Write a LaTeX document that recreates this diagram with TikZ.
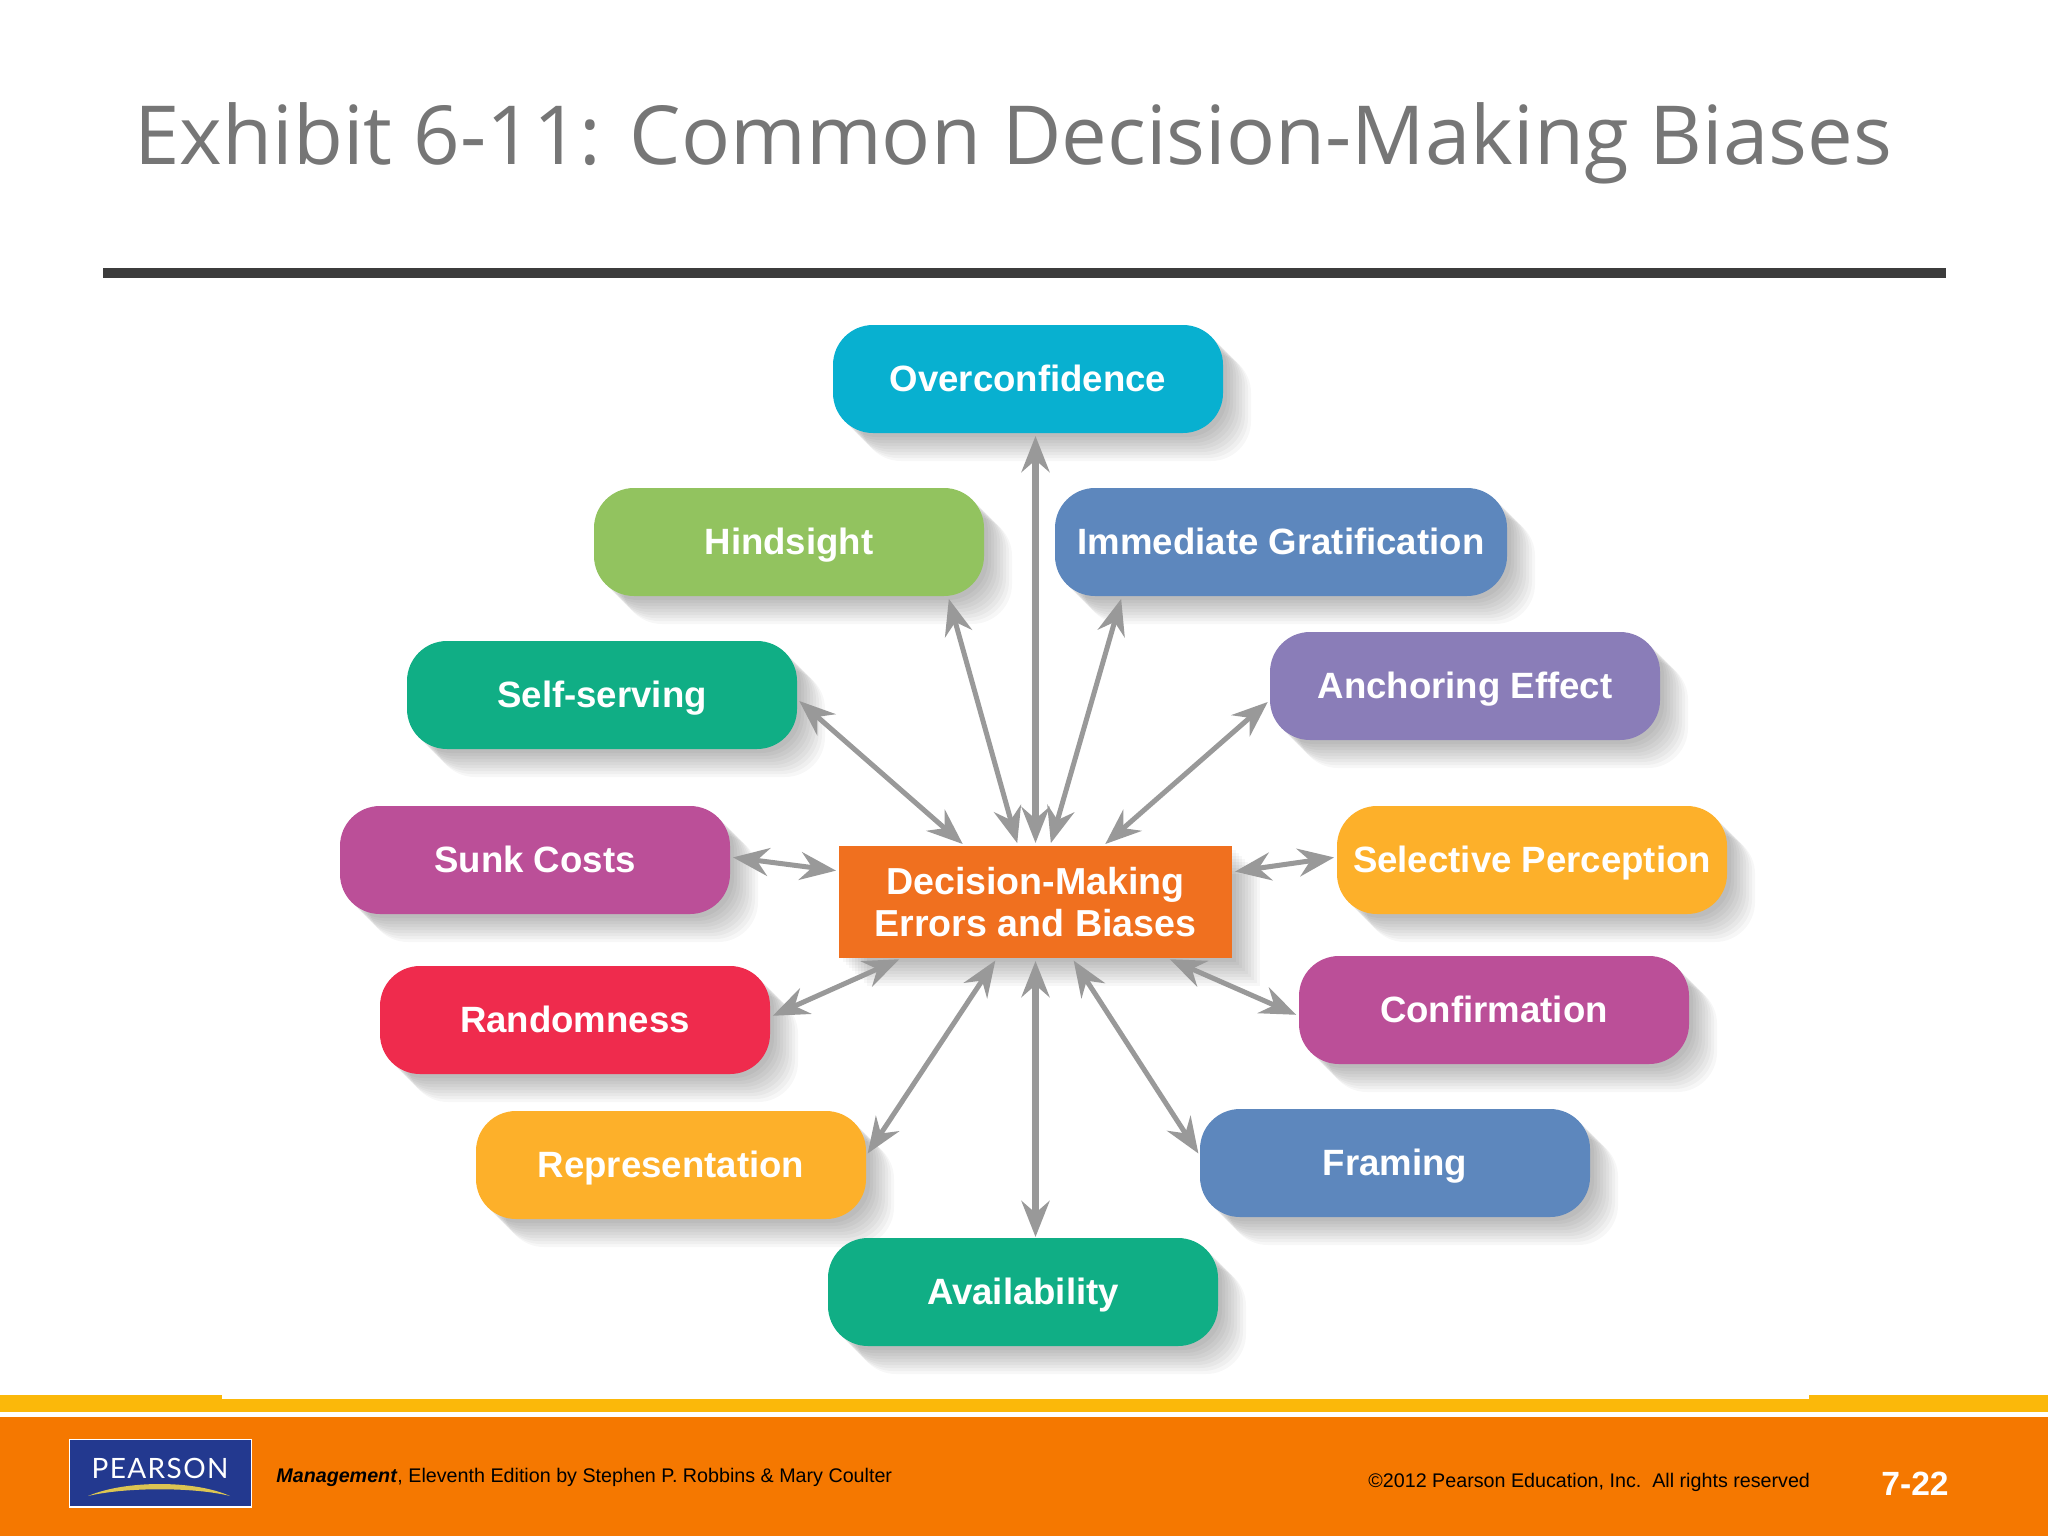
\documentclass[tikz,border=0pt]{standalone}
\usepackage{fontspec}
\setmainfont{Liberation Sans}
\newfontfamily\titlefont{Open Sans}
\newfontfamily\logofont[LetterSpace=5]{Lato}
\usetikzlibrary{arrows.meta,shadows}
\definecolor{footorange}{HTML}{F57800}
\definecolor{footgold}{HTML}{FBB80A}
\definecolor{swooshgold}{HTML}{DCC552}
\definecolor{rulegray}{HTML}{3C3C3C}
\definecolor{titlegray}{HTML}{767676}
\definecolor{arrowgray}{HTML}{999999}
\definecolor{logoblue}{HTML}{23398F}
\definecolor{cyanbias}{HTML}{08B0D0}
\definecolor{greenbias}{HTML}{92C35F}
\definecolor{bluebias}{HTML}{5D87BD}
\definecolor{tealbias}{HTML}{10AE85}
\definecolor{purplebias}{HTML}{8A7DB8}
\definecolor{magentabias}{HTML}{BB4F98}
\definecolor{amberbias}{HTML}{FDB02A}
\definecolor{redbias}{HTML}{EF2B4D}
\definecolor{centerbox}{HTML}{F0701F}
\tikzset{
	shadowlayer/.style={drop shadow={shadow xshift=#1,shadow yshift=-#1,opacity=0.03,fill=black}},
	softshadow/.style={shadowlayer/.list={14pt,12.5pt,11pt,9.5pt,8pt,6.5pt,5pt,3.5pt,2pt}},
	bias/.style={softshadow,fill=#1,rounded corners=20pt,minimum width=195pt,minimum height=54pt,inner sep=0pt,outer sep=0pt,text=white,text height=12pt,text depth=0pt,font=\fontsize{18.3}{22}\selectfont\bfseries},
	link/.style={draw=arrowgray,line width=2.5pt,{Stealth[length=18pt,width=14pt,inset=6pt]}-{Stealth[length=18pt,width=14pt,inset=6pt]},shorten <=1.5pt,shorten >=1.5pt},
	footnote/.style={inner sep=0pt,anchor=base west,font=\fontsize{9.85}{12}\selectfont}
}
\begin{document}
\begin{tikzpicture}[x=0.5pt,y=-0.5pt]
	\useasboundingbox (0,0) rectangle (2048,1536);
	\fill[white] (0,0) rectangle (2048,1536);

	\node[inner sep=0pt,anchor=base west,text=titlegray,font=\titlefont\fontsize{40.75}{48}\selectfont] (title) at (134,164) {Exhibit 6-11: Common Decision-Making Biases};
	\fill[rulegray] (103,268) rectangle (1946,278);

	\node[bias=cyanbias] (over) at (1028,379) {Overconfidence};
	\node[bias=greenbias] (hind) at (789,542) {Hindsight};
	\node[bias=bluebias,minimum width=226pt] (imm) at (1281,542) {Immediate Gratification};
	\node[bias=tealbias] (self) at (602,695) {Self-serving};
	\node[bias=purplebias] (anch) at (1465,686) {Anchoring Effect};
	\node[bias=magentabias] (sunk) at (535,860) {Sunk Costs};
	\node[bias=amberbias] (sel) at (1532,860) {Selective Perception};
	\node[bias=redbias] (rand) at (575,1020) {Randomness};
	\node[bias=magentabias] (conf) at (1494,1010) {Confirmation};
	\node[bias=amberbias] (repr) at (671,1165) {Representation};
	\node[bias=bluebias] (fram) at (1395,1163) {Framing};
	\node[bias=tealbias] (avail) at (1023,1292) {Availability};
	\node[softshadow,fill=centerbox,minimum width=196.5pt,minimum height=56pt,inner sep=0pt,outer sep=0pt,text=white,align=center,font=\fontsize{18.8}{21}\selectfont\bfseries] (dec) at (1035.5,902) {Decision-Making\\Errors and Biases};

	\draw[link,line width=3.5pt] (dec.north |- over.south) -- (dec.north);
	\draw[link] ([xshift=79.5pt]hind.south) -- ([xshift=-8.75pt]dec.north);
	\draw[link] ([xshift=-79.5pt]imm.south) -- ([xshift=7.25pt]dec.north);
	\draw[link] ([yshift=-2pt]self.east) -- ([xshift=-35.25pt]dec.north);
	\draw[link] ([yshift=-7pt]anch.west) -- ([xshift=33.75pt]dec.north);
	\draw[link] ([yshift=1.5pt]sunk.east) -- ([yshift=15.5pt]dec.west);
	\draw[link] ([yshift=1.5pt]sel.west) -- ([yshift=15pt]dec.east);
	\draw[link] ([yshift=1.5pt]rand.east) -- ([xshift=-66.75pt]dec.south);
	\draw[link] ([yshift=-3pt]conf.west) -- ([xshift=65.75pt]dec.south);
	\draw[link] ([yshift=4.5pt]repr.east) -- ([xshift=-19.25pt]dec.south);
	\draw[link] ([yshift=3.5pt]fram.west) -- ([xshift=18.25pt]dec.south);
	\draw[link,line width=3.5pt,shorten <=0.5pt] (dec.south |- avail.north) -- (dec.south);

	\fill[footgold] (0,1399) rectangle (2048,1412);
	\fill[footgold] (0,1395) rectangle (222,1399);
	\fill[footgold] (1809,1395) rectangle (2048,1399);
	\fill[footorange] (0,1417) rectangle (2048,1536);

	\fill[white] (69,1439) rectangle (252,1508);
	\fill[logoblue] (70,1440) rectangle (251,1506);
	\node[inner sep=0pt,text=white,font=\logofont\fontsize{14}{16}\selectfont] (logo) at (160,1468) {PEARSON};
	\fill[swooshgold] (88,1496) .. controls (125,1480) and (195,1480) .. (230,1496) .. controls (195,1487) and (125,1487) .. (88,1496);

	\node[footnote] (book) at (276,1482) {\textbf{\textit{Management}}, Eleventh Edition by Stephen P. Robbins \& Mary Coulter};
	\node[footnote] (copy) at (1368,1487) {©2012 Pearson Education, Inc.\ \ All rights reserved};
	\node[inner sep=0pt,anchor=base west,text=white,font=\fontsize{16.8}{20}\selectfont\bfseries] (page) at (1881,1495) {7-22};
\end{tikzpicture}
\end{document}
